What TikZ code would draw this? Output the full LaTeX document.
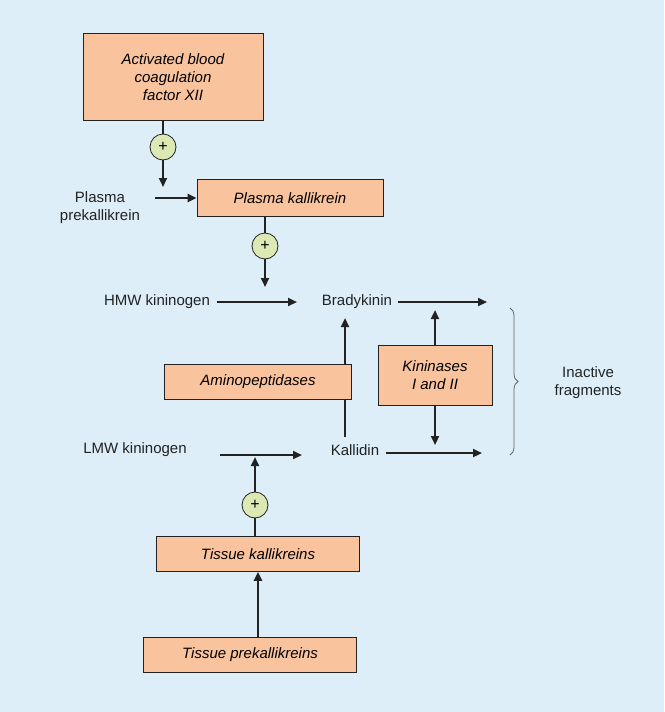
\documentclass[tikz,border=0pt]{standalone}
\usepackage{fontspec}
\setmainfont{Liberation Sans}
\usetikzlibrary{arrows.meta,decorations.pathreplacing}
\definecolor{bg}{HTML}{DDEEF8}
\definecolor{boxc}{HTML}{F9C39E}
\definecolor{plusc}{HTML}{DCE9B4}
\definecolor{ink}{HTML}{222222}
\begin{document}
\begin{tikzpicture}[x=1pt,y=-1pt,
  box/.style={draw=ink,line width=0.8pt,fill=boxc,font=\fontsize{15}{18}\selectfont\itshape,align=center,inner sep=0pt},
  txt/.style={font=\fontsize{15}{18}\selectfont,align=center,text=ink},
  pl/.style={circle,draw=ink,line width=0.8pt,fill=plusc,minimum size=26pt,inner sep=0pt,font=\fontsize{16}{16}\selectfont},
  arr/.style={-{Triangle[length=9pt,width=8pt]},line width=2.2pt,draw=ink}]
\fill[bg] (0,0) rectangle (664,712);
\useasboundingbox (0,0) rectangle (664,712);
\node[box,minimum width=180pt,minimum height=87pt] (f12) at (173,77) {Activated blood\\coagulation\\factor XII};
\node[box,minimum width=186pt,minimum height=37pt] (pk) at (290,198) {Plasma kallikrein};
\node[txt] (ppk) at (100,208) {Plasma\\prekallikrein};
\coordinate (a1) at (163,187);
\draw[arr] (f12.south -| a1) -- (a1);
\node[pl] (p1) at (163,147) {+};
\coordinate (a2s) at (155,198);
\draw[arr] (a2s) -- (pk.west);
\node[txt] (hmw) at (157,302) {HMW kininogen};
\node[txt] (bk) at (357,302) {Bradykinin};
\coordinate (a3) at (265,287);
\draw[arr] (pk.south -| a3) -- (a3);
\node[pl] (p2) at (265,246) {+};
\draw[arr] (hmw.east) ++(4,0) -- (297,302);
\coordinate (bkr) at (487,302);
\draw[arr] (bk.east) ++(2,0) -- (bkr);
\node[txt] (lmw) at (135,450) {LMW kininogen};
\node[txt] (kal) at (355,450) {Kallidin};
\coordinate (kt) at (302,455);
\draw[arr] (220,455) -- (kt);
\coordinate (kr) at (482,453);
\draw[arr] (kal.east) ++(3,3) -- (kr);
\draw[arr] (345,437) -- (345,318);
\node[box,minimum width=187pt,minimum height=35pt] (amp) at (258,382) {Aminopeptidases};
\node[box,minimum width=114pt,minimum height=60pt] (kin) at (435,375) {Kininases\\I and II};
\draw[arr] (kin.north) -- (435,310);
\draw[arr] (kin.south) -- (435,445);
\draw[line width=0.8pt,draw=ink!70,decorate,decoration={brace,amplitude=8pt}] (510,308) -- (510,455);
\node[txt] (inact) at (588,383) {Inactive\\fragments};
\node[box,minimum width=203pt,minimum height=35pt] (tk) at (258,554) {Tissue kallikreins};
\node[box,minimum width=213pt,minimum height=35pt] (tpk) at (250,655) {Tissue prekallikreins};
\draw[arr] (255,537) -- (255,457);
\node[pl] (p3) at (255,505) {+};
\draw[arr] (tpk.north -| tk.south) ++(0,0) -- (tk.south);
\end{tikzpicture}
\end{document}
